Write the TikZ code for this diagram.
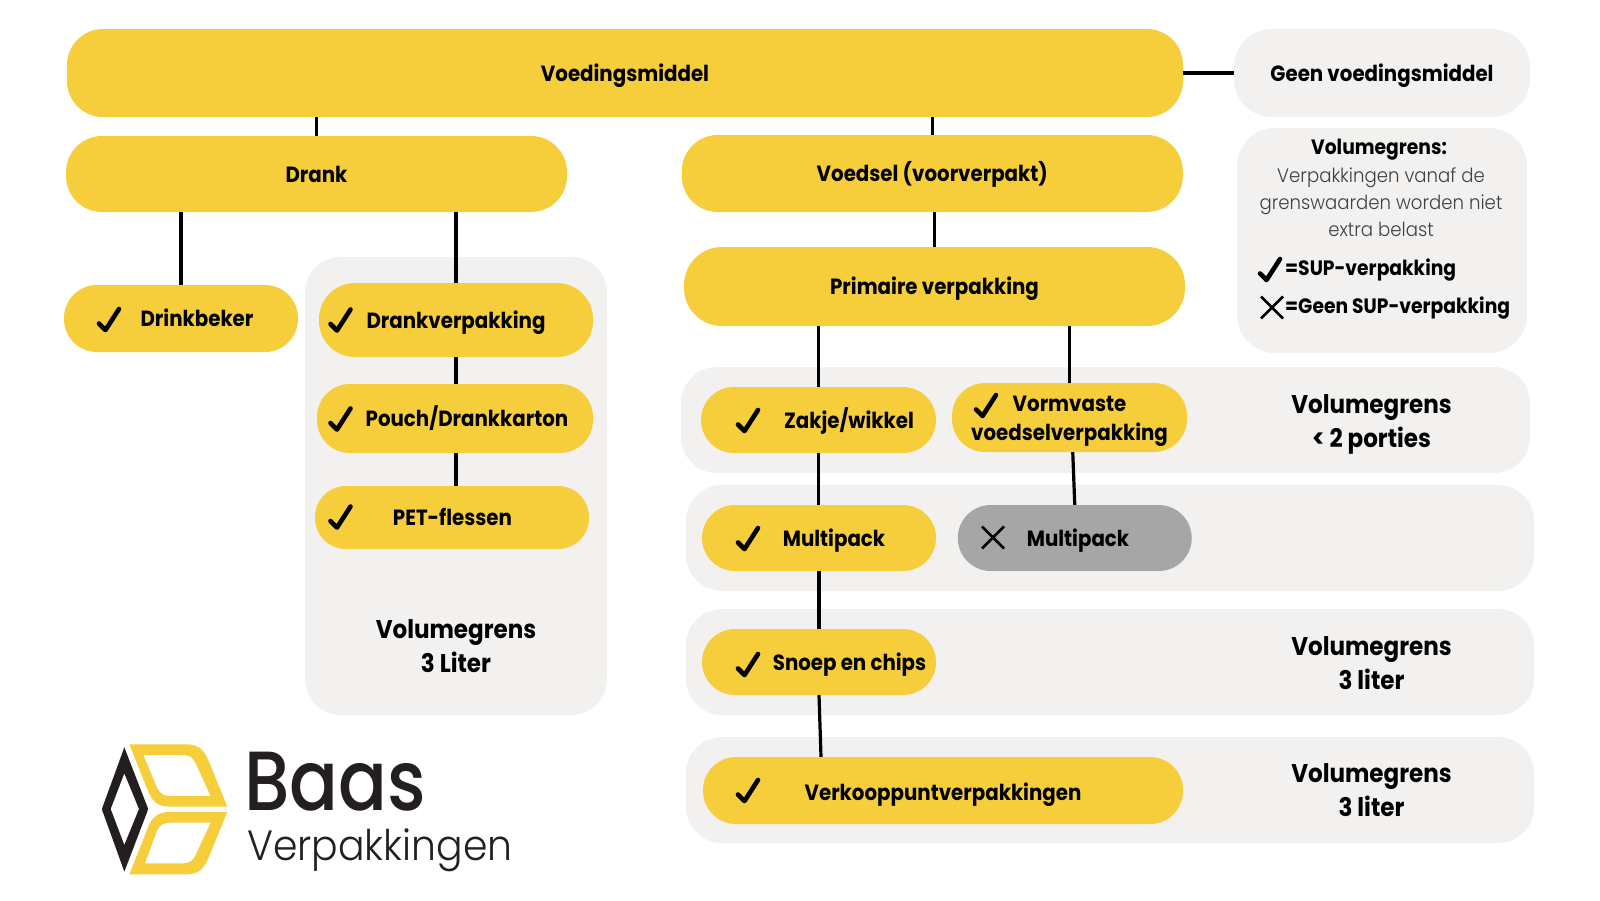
\documentclass[tikz,border=0pt]{standalone}
\usepackage{fontspec}
\setmainfont{Poppins}
\newfontfamily\heavyfont{Poppins Bold}[FakeStretch=0.9]
\newfontfamily\lightfont{Poppins Light}[FakeStretch=0.93]
\newfontfamily\logofont{Poppins Medium}[FakeStretch=0.86]
\usepackage{tikz}
\usetikzlibrary{calc}
\definecolor{baasyellow}{HTML}{F6CE3C}
\definecolor{panelgrey}{HTML}{F2F1EF}
\definecolor{pillgrey}{HTML}{A6A6A6}
\definecolor{baasblack}{HTML}{231F20}

\begin{document}
\begin{tikzpicture}[x=1pt, y=-1pt]
        % Define block styles
        \tikzstyle{pill} = [rectangle, fill=baasyellow, inner sep=0pt, rounded corners=33, minimum height=66, font=\fontsize{22}{26}\heavyfont, text=black, text height=16, text depth=0]
        \tikzstyle{panel} = [rectangle, fill=panelgrey, inner sep=0pt, rounded corners=36, minimum height=106]
        \tikzstyle{txt} = [inner sep=0pt, font=\fontsize{22}{29}\heavyfont, text=black, text height=16, text depth=0, align=center]
        \tikzstyle{limit} = [inner sep=0pt, font=\fontsize{25.6}{34}\heavyfont, text=black, align=center]
        \tikzstyle{legtxt} = [txt, font=\fontsize{20.8}{24}\heavyfont]
        \tikzstyle{line} = [draw, line width=3.2]
        \tikzset{
            chk/.pic={\draw[line width=4.6, line cap=round, line join=round] (-10,4) -- (-3.5,10.5) -- (10,-10.5);},
            nochk/.pic={\draw[line width=2.6] (-11,-11) -- (11,11) (-11,11) -- (11,-11);}
        }
        \useasboundingbox (0,0) rectangle (1600,900);

        % Define panels
        \node [panel, minimum width=302, minimum height=458] (volpanel) at (456,486) {};
        \node [panel, minimum width=849] (rowa) at (1105.5,420) {};
        \node [panel, minimum width=848] (rowb) at (1110,538) {};
        \node [panel, minimum width=848] (rowc) at (1110,662) {};
        \node [panel, minimum width=848] (rowd) at (1110,790) {};
        \node [panel, minimum width=290, minimum height=225, rounded corners=38] (legend) at (1382,240.5) {};

        % Define nodes
        \node [pill, minimum width=1116, minimum height=88, rounded corners=36] (voeding) at (625,73) {Voedingsmiddel};
        \node [pill, fill=panelgrey, minimum width=296, minimum height=88, rounded corners=38] (geen) at (1382,73) {Geen voedingsmiddel};
        \node [pill, minimum width=501, minimum height=76, rounded corners=36] (drank) at (316.5,174) {Drank};
        \node [pill, minimum width=501, minimum height=77, rounded corners=36] (voedsel) at (932.3,173.5) {Voedsel (voorverpakt)};
        \node [pill, minimum width=501, minimum height=79, rounded corners=38] (primaire) at (934.5,286.5) {Primaire verpakking};

        \node [pill, minimum width=234, minimum height=67] (drinkbeker) at (181,318.5) {};
        \node [pill, minimum width=274, minimum height=74, rounded corners=36] (drankverp) at (456,320) {};
        \node [pill, minimum width=276, minimum height=69] (pouch) at (455,418.5) {};
        \node [pill, minimum width=274, minimum height=63, rounded corners=31] (pet) at (452,517.5) {};

        \node [pill, minimum width=235] (zakje) at (818.5,420) {};
        \node [pill, minimum width=235, minimum height=69] (vorm) at (1069.5,417.5) {};
        \node [pill, minimum width=234] (multi) at (819,538) {};
        \node [pill, fill=pillgrey, minimum width=234] (multigrey) at (1074.75,538) {};
        \node [pill, minimum width=234] (snoep) at (819,662) {};
        \node [pill, minimum width=480, minimum height=67] (verkoop) at (943,790.5) {};

        % Labels next to the ticks
        \node [txt] (drinkbekertxt) at (197,318) {Drinkbeker};
        \node [txt] (drankverptxt) at (456,320) {Drankverpakking};
        \node [txt] (pouchtxt) at (467,418) {Pouch/Drankkarton};
        \node [txt] (pettxt) at (452.5,517) {PET-flessen};
        \node [txt] (zakjetxt) at (849,420) {Zakje/wikkel};
        \node [txt, text height=, text depth=] (vormtxt) at (1069.5,421) {Vormvaste\\voedselverpakking};
        \node [txt] (multitxt) at (834,538) {Multipack};
        \node [txt] (multigreytxt) at (1078,538) {Multipack};
        \node [txt] (snoeptxt) at (849.5,662) {Snoep en chips};
        \node [txt] (verkooptxt) at (943,792) {Verkooppuntverpakkingen};

        \node [limit] (volA) at (456,646) {Volumegrens\\3 Liter};
        \node [limit] (volB) at (1371.5,424) {Volumegrens\\< 2 porties};
        \node [limit] (volC) at (1371.5,663) {Volumegrens\\3 liter};
        \node [limit] (volD) at (1371.5,790) {Volumegrens\\3 liter};

        % Legend
        \node [legtxt] (legtitle) at (1379,146) {Volumegrens:};
        \node [inner sep=0pt, font=\fontsize{19.5}{27}\lightfont, text=black!75, align=center] (legbody) at (1381,202) {Verpakkingen vanaf de\\grenswaarden worden niet\\extra belast};
        \node [legtxt, anchor=west] (legsup) at (1285,267) {=SUP-verpakking};
        \node [legtxt, anchor=west] (leggeen) at (1285,305) {=Geen SUP-verpakking};

        % Ticks and crosses
        \pic at (109,319.5) {chk};
        \pic at (340.5,320) {chk};
        \pic at (340.5,419) {chk};
        \pic at (340.5,517) {chk};
        \pic at (748,420.5) {chk};
        \pic at (986,405.5) {chk};
        \pic at (748,538.5) {chk};
        \pic at (748,664.5) {chk};
        \pic at (748,790.5) {chk};
        \pic at (1270,269.5) {chk};
        \pic at (993,537.5) {nochk};
        \pic at (1272,307.5) {nochk};

        % Connect nodes with paths
        \path [line] (voeding) -- (geen);
        \path [line] (drank.north) -- (drank.north |- voeding.south);
        \path [line] (voedsel.north) -- (voedsel.north |- voeding.south);
        \path [line] (primaire.north) -- (primaire.north |- voedsel.south);
        \path [line] (drinkbeker.north) -- (drinkbeker.north |- drank.south);
        \path [line] (drankverp.north) -- (drankverp.north |- drank.south);
        \path [line] (drankverp.south) -- (drankverp.south |- pouch.north);
        \path [line] (drankverp.south |- pouch.south) -- (drankverp.south |- pet.north);
        \path [line] (zakje.north) -- (zakje.north |- primaire.south);
        \path [line] (vorm.north) -- (vorm.north |- primaire.south);
        \path [line] (zakje.south) -- (zakje.south |- multi.north);
        \path [line] ([xshift=-2]multigrey.north |- vorm.south) -- (multigrey.north);
        \path [line] (multi.south) -- (multi.south |- snoep.north);
        \path [line] (snoep.south) -- ([xshift=2]snoep.south |- verkoop.north);

        % Logo
        \begin{scope}[shift={(80,710)}, x=0.3333pt, y=-0.3333pt]
            \fill [baasblack, even odd rule] (133,112) -- (70,285) .. controls (65,297) and (65,300) .. (70,310) -- (133,485) -- (200,310) .. controls (205,297) and (205,297) .. (200,285) -- cycle
                (133,190) -- (92,297) -- (133,405) -- (177,297) -- cycle;
            \fill [baasyellow, even odd rule] (148,103) -- (320,103) .. controls (355,103) and (372,120) .. (385,150) -- (442,290) -- (268,290) .. controls (235,290) and (217,275) .. (205,245) -- cycle
                (190,135) -- (310,135) .. controls (330,135) and (340,145) .. (347,160) -- (392,258) -- (270,258) .. controls (250,258) and (240,250) .. (232,235) -- cycle;
            \fill [baasyellow, even odd rule] (442,306) -- (268,306) .. controls (235,306) and (217,321) .. (205,350) -- (148,493) -- (320,493) .. controls (355,493) and (372,476) .. (385,445) -- cycle
                (392,338) -- (270,338) .. controls (250,338) and (240,346) .. (232,360) -- (195,460) -- (310,460) .. controls (330,460) and (340,450) .. (347,435) -- cycle;
        \end{scope}
        \node [inner sep=0pt, anchor=base west, font=\fontsize{84}{90}\logofont, text=baasblack] (baas) at (244,810) {Baas};
        \node [inner sep=0pt, anchor=base west, font=\fontsize{42.3}{48}\lightfont, text=baasblack] (verp) at (247,860) {Verpakkingen};
    \end{tikzpicture}
\end{document}
